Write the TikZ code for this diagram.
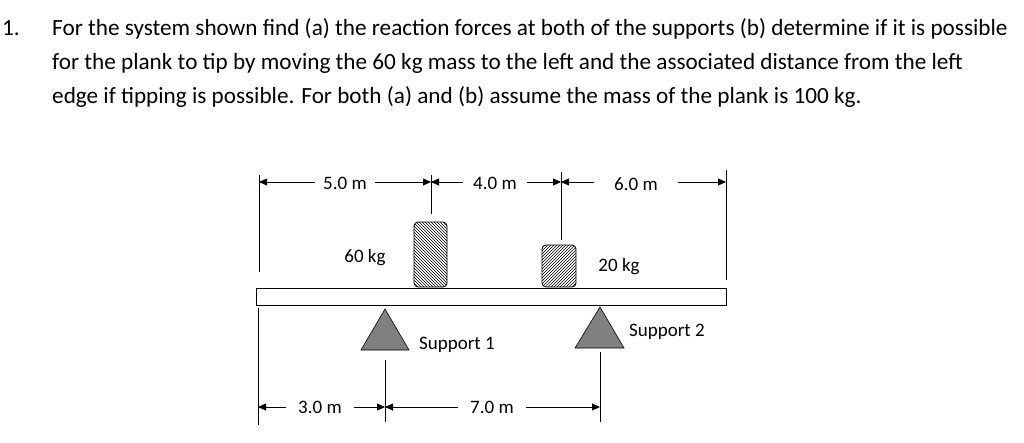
\documentclass[tikz,border=0pt]{standalone}
\usepackage{fontspec}
\setmainfont{Carlito}
\usetikzlibrary{arrows.meta,patterns}
\begin{document}
\begin{tikzpicture}[x=1pt,y=-1pt,
  dimline/.style={line width=0.8pt,{Triangle[length=8pt,width=7pt]}-{Triangle[length=8pt,width=7pt]}},
  dimlab/.style={fill=white,inner xsep=6pt,inner ysep=1pt,font=\fontsize{19}{22}\selectfont},
  lab/.style={font=\fontsize{19}{22}\selectfont},
  ext/.style={line width=0.8pt},
  mass/.style={draw,line width=0.8pt,rounded corners=4pt},
  supp/.style={draw,fill=gray,line width=0.6pt},
  para/.style={anchor=base west,font=\fontsize{23.2}{26}\selectfont,inner sep=0pt}]
\useasboundingbox (0,0) rectangle (1024,442);
\node[para] (n1) at (2,35) {1.};
\node[para] (l1) at (52,35) {For the system shown find (a) the reaction forces at both of the supports (b) determine if it is possible};
\node[para] (l2) at (52,69) {for the plank to tip by moving the 60 kg mass to the left and the associated distance from the left};
\node[para] (l3) at (52,103) {edge if tipping is possible.  For both (a) and (b) assume the mass of the plank is 100 kg.};
% plank
\draw[line width=0.8pt] (256,288) rectangle (726,305);
\node[mass,pattern=north west lines,minimum width=33pt,minimum height=65pt,inner sep=0] (m60) at (430.5,254.5) {};
\node[mass,pattern=north east lines,minimum width=34pt,minimum height=42pt,inner sep=0] (m20) at (559,266) {};
% extension lines
\coordinate (a1) at (259,175); \coordinate (a2) at (259,272);
\coordinate (b1) at (431,175); \coordinate (b2) at (431,214);
\coordinate (c1) at (561,172); \coordinate (c2) at (561,240);
\coordinate (d1) at (726,170); \coordinate (d2) at (726,280);
\draw[ext] (a1)--(a2); \draw[ext] (b1)--(b2); \draw[ext] (c1)--(c2); \draw[ext] (d1)--(d2);
\coordinate (ta) at (259,182); \coordinate (tb) at (431,182); \coordinate (tc) at (561,182); \coordinate (td) at (726,182);
\draw[dimline] (ta)--(tb); \draw[dimline] (tb)--(tc); \draw[dimline] (tc)--(td);
\node[dimlab,inner xsep=8pt] (t5) at (345,183) {5.0 m};
\node[dimlab,inner xsep=10pt] (t4) at (495,183) {4.0 m};
\node[dimlab,inner xsep=20pt] (t6) at (636,184) {6.0 m};
\node[lab] (k60) at (365,258) {60 kg};
\node[lab] (k20) at (619,267) {20 kg};
% supports
\draw[supp] (385,309)--(409,350)--(361,350)--cycle;
\draw[supp] (600,307)--(624,348)--(575,348)--cycle;
\node[lab] (s1) at (457,345) {Support 1};
\node[lab] (s2) at (667,332) {Support 2};
\coordinate (e1) at (258,308); \coordinate (e2) at (258,425);
\coordinate (f1) at (385,360); \coordinate (f2) at (385,422);
\coordinate (g1) at (600,352); \coordinate (g2) at (600,422);
\draw[ext] (e1)--(e2); \draw[ext] (f1)--(f2); \draw[ext] (g1)--(g2);
\coordinate (be) at (258,407); \coordinate (bf) at (385,407); \coordinate (bg) at (600,407);
\draw[dimline] (be)--(bf); \draw[dimline] (bf)--(bg);
\node[dimlab,inner xsep=12pt] (b3) at (320,407) {3.0 m};
\node[dimlab,inner xsep=12pt] (b7) at (492,407) {7.0 m};
\end{tikzpicture}
\end{document}
